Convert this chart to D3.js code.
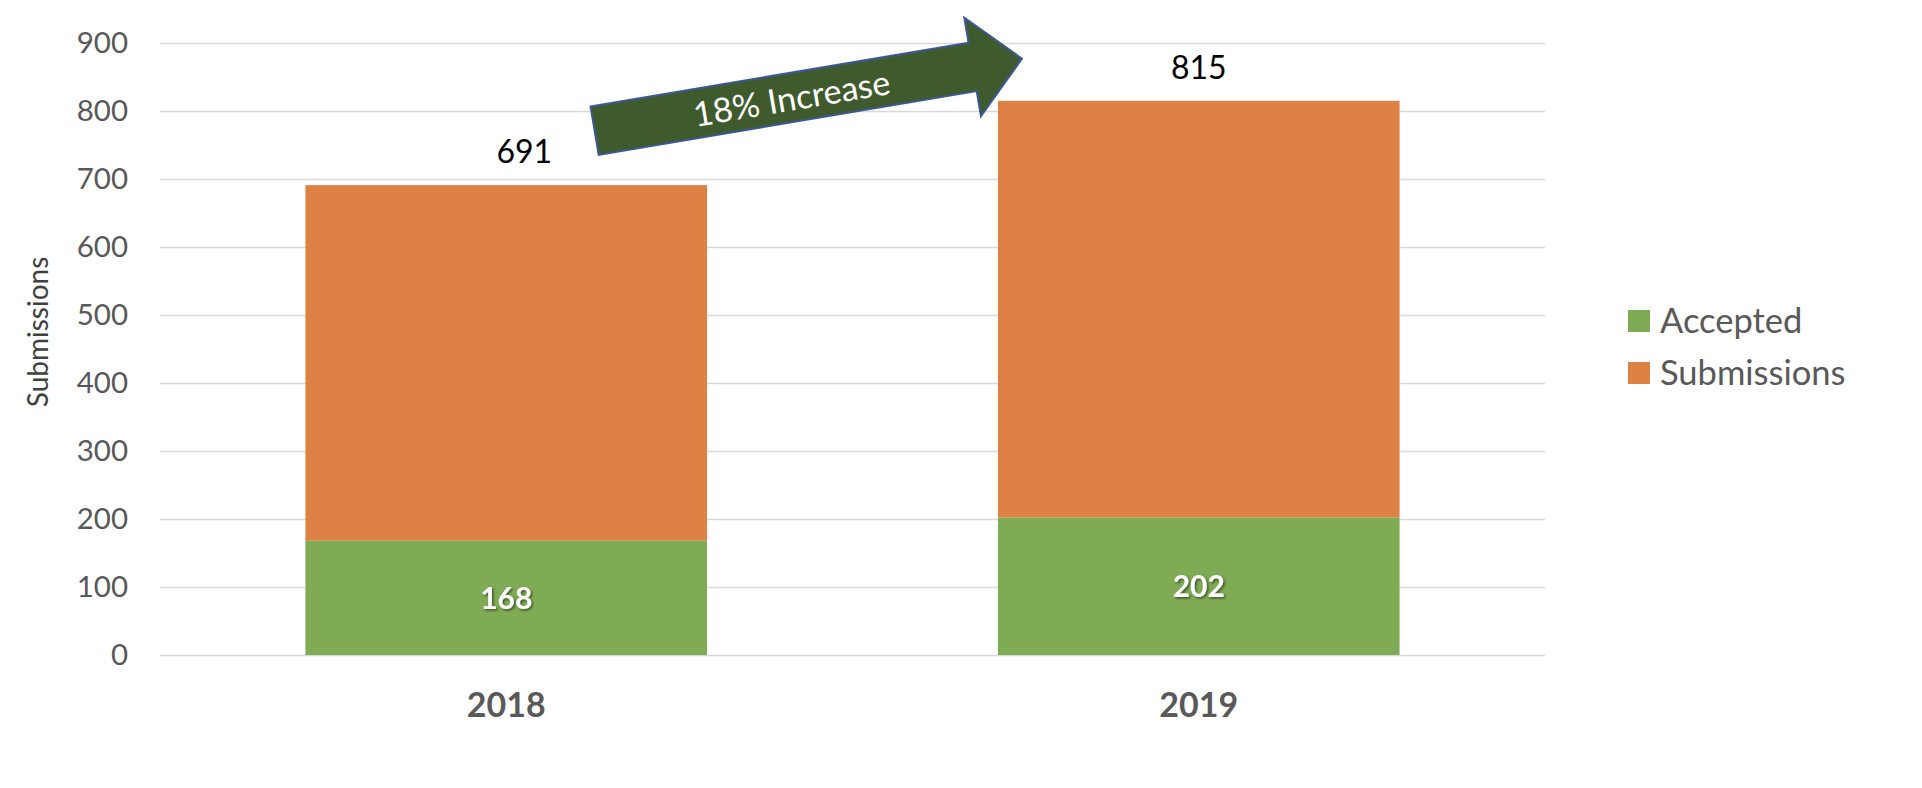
<!DOCTYPE html>
<html>
<head>
<meta charset="utf-8">
<script src="https://cdn.jsdelivr.net/npm/d3@7"></script>
<style>
  body { margin: 0; background: #fff; }
  text { font-family: Lato, "Open Sans", sans-serif; }
</style>
</head>
<body>
<div id="chart"></div>
<script>
// data
const years = ["2018", "2019"];
const accepted = [168, 202];
const submissions = [691, 815];
const totalLabelShift = [18, 0]; // the 2018 total label sits a bit right of centre
const yTicks = [0, 100, 200, 300, 400, 500, 600, 700, 800, 900];
const seriesNames = ["Accepted", "Submissions"];
const increaseLabel = "18% Increase";

const W = 1922, H = 788;
const margin = {top: 43, right: 377, bottom: 133, left: 160},
      width = W - margin.left - margin.right,
      height = H - margin.top - margin.bottom;

const colors = {Accepted: "#7eab54", Submissions: "#de8144"};

const svg = d3.select("#chart").append("svg")
    .attr("width", W)
    .attr("height", H)
    .append("g")
    .attr("transform", `translate(${margin.left}, ${margin.top})`);

const x = d3.scaleBand().domain(years).range([0, width]).paddingInner(0.42).paddingOuter(0.21);
const y = d3.scaleLinear().domain([0, 900]).range([height, 0]);

// gridlines
svg.append("g")
    .attr("class", "grid")
    .call(d3.axisLeft(y).tickValues(yTicks).tickSize(-width).tickFormat(""))
    .call(g => g.select(".domain").remove())
    .selectAll(".tick line").style("stroke", "#d9d9d9").style("stroke-width", 1.5);

// y axis labels
svg.append("g")
    .call(d3.axisLeft(y).tickValues(yTicks).tickSize(0).tickPadding(32))
    .call(g => g.select(".domain").remove())
    .selectAll("text")
    .style("font-family", "Lato, sans-serif")
    .style("font-size", "29.5px")
    .style("fill", "#595959");

// x axis labels
svg.append("g")
    .attr("transform", `translate(0,${height})`)
    .call(d3.axisBottom(x).tickSize(0).tickPadding(38))
    .call(g => g.select(".domain").remove())
    .selectAll("text")
    .style("font-family", "Lato, sans-serif")
    .style("font-size", "34px")
    .style("font-weight", "bold")
    .style("fill", "#595959");

// y axis title
svg.append("text")
    .attr("transform", `translate(${-margin.left + 48}, ${y(475)}) rotate(-90)`)
    .attr("text-anchor", "middle")
    .style("font-size", "28px")
    .style("fill", "#404040")
    .text("Submissions");

const rows = years.map((yr, i) => ({year: yr, acc: accepted[i], sub: submissions[i], dx: totalLabelShift[i]}));

// orange total bars
svg.selectAll(".bar-sub").data(rows).enter().append("rect")
    .attr("class", "bar-sub")
    .attr("x", d => x(d.year))
    .attr("width", x.bandwidth())
    .attr("y", d => y(d.sub))
    .attr("height", d => y(d.acc) - y(d.sub))
    .style("fill", colors.Submissions);

// green accepted bars
svg.selectAll(".bar-acc").data(rows).enter().append("rect")
    .attr("class", "bar-acc")
    .attr("x", d => x(d.year))
    .attr("width", x.bandwidth())
    .attr("y", d => y(d.acc))
    .attr("height", d => y(0) - y(d.acc))
    .style("fill", colors.Accepted);

// total labels
svg.selectAll(".lbl-sub").data(rows).enter().append("text")
    .attr("x", d => x(d.year) + x.bandwidth() / 2 + d.dx)
    .attr("y", d => y(d.sub) - 22)
    .attr("text-anchor", "middle")
    .style("font-size", "32px")
    .style("fill", "#000")
    .text(d => d.sub);

// accepted labels with shadow
const defs = svg.append("defs");
const f = defs.append("filter").attr("id", "shadow").attr("x", "-20%").attr("y", "-20%")
    .attr("width", "140%").attr("height", "140%");
f.append("feDropShadow").attr("dx", 1.5).attr("dy", 1.5).attr("stdDeviation", 1)
    .attr("flood-color", "#000").attr("flood-opacity", 0.5);

svg.selectAll(".lbl-acc").data(rows).enter().append("text")
    .attr("x", d => x(d.year) + x.bandwidth() / 2)
    .attr("y", d => y(d.acc / 2) + 11)
    .attr("text-anchor", "middle")
    .attr("filter", "url(#shadow)")
    .style("font-size", "30px")
    .style("font-weight", "bold")
    .style("fill", "#fff")
    .text(d => d.acc);

// increase arrow (annotation), tail near 2018 bar, tip near 2019 bar
const tail = [x("2018") + x.bandwidth() * 0.72, y(771)];
const tip = [x("2019") + 24, y(877)];
const ang = Math.atan2(tip[1] - tail[1], tip[0] - tail[0]);
const len = Math.hypot(tip[0] - tail[0], tip[1] - tail[1]);
const shaftHalf = 24.5, headHalf = 50, headLen = 50;
const pts = [
    [0, -shaftHalf], [len - headLen, -shaftHalf], [len - headLen, -headHalf],
    [len, 0], [len - headLen, headHalf], [len - headLen, shaftHalf], [0, shaftHalf]
];
const arrow = svg.append("g")
    .attr("transform", `translate(${tail[0]},${tail[1]}) rotate(${ang * 180 / Math.PI})`);
arrow.append("polygon")
    .attr("points", pts.map(p => p.join(",")).join(" "))
    .style("fill", "#3f5a2c")
    .style("stroke", "#3b5998")
    .style("stroke-width", 2);
arrow.append("text")
    .attr("x", (len - headLen) / 2 + 8)
    .attr("y", 13)
    .attr("text-anchor", "middle")
    .style("font-size", "34px")
    .style("fill", "#fff")
    .text(increaseLabel);

// legend
const legend = svg.append("g")
    .attr("transform", `translate(${1628 - margin.left}, ${310 - margin.top})`);
seriesNames.forEach((name, i) => {
    const g = legend.append("g").attr("transform", `translate(0, ${i * 52})`);
    g.append("rect").attr("width", 22).attr("height", 22).style("fill", colors[name]);
    g.append("text")
        .attr("x", 32)
        .attr("y", 23)
        .style("font-size", "34.5px")
        .style("fill", "#595959")
        .text(name);
});
</script>
</body>
</html>
